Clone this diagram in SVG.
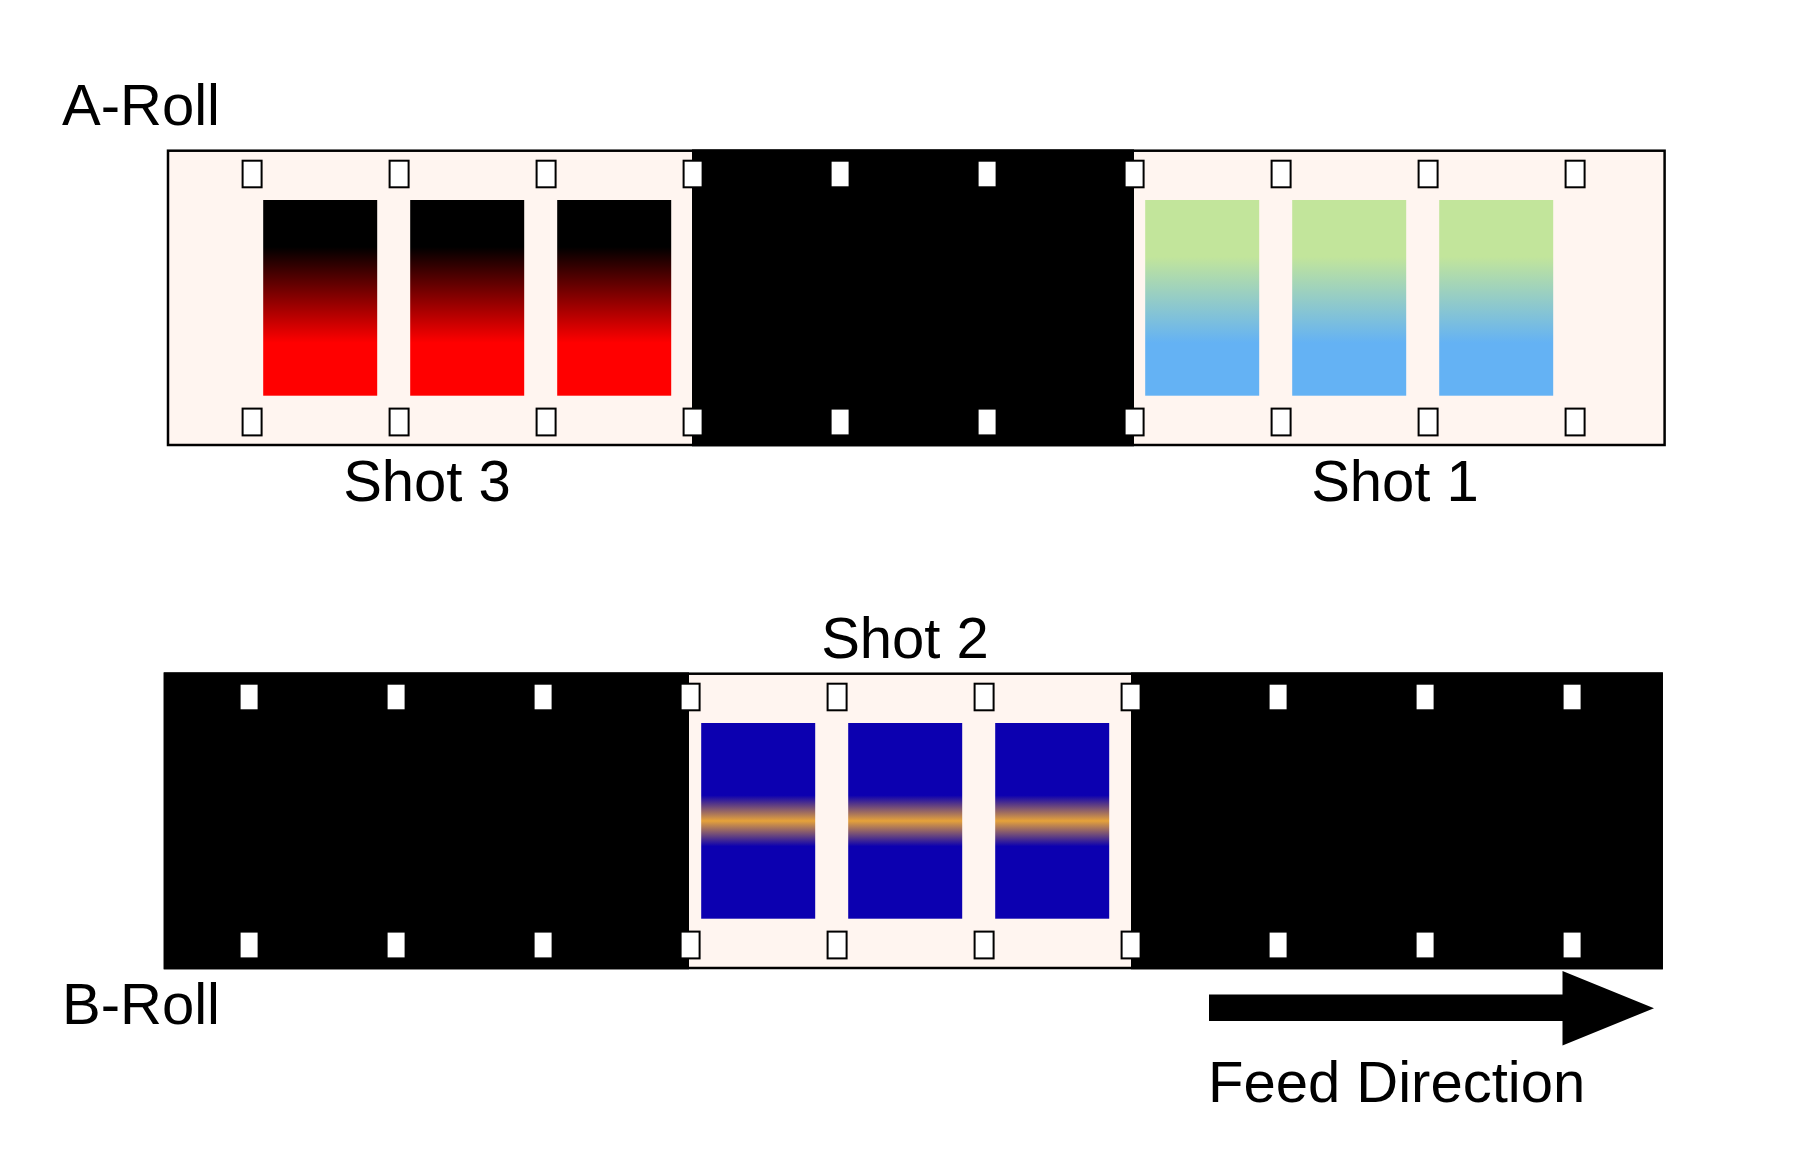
<svg xmlns="http://www.w3.org/2000/svg" xmlns:xlink="http://www.w3.org/1999/xlink" width="1800" height="1175" viewBox="0 0 1800 1175">
  <defs>
    <linearGradient id="gRed" x1="0" y1="0" x2="0" y2="1">
      <stop offset="0.24" stop-color="#000000"/>
      <stop offset="0.73" stop-color="#ff0000"/>
    </linearGradient>
    <linearGradient id="gGreen" x1="0" y1="0" x2="0" y2="1">
      <stop offset="0.29" stop-color="#c2e59b"/>
      <stop offset="0.73" stop-color="#64b2f4"/>
    </linearGradient>
    <linearGradient id="gBlue" x1="0" y1="0" x2="0" y2="1">
      <stop offset="0.37" stop-color="#0c00b0"/>
      <stop offset="0.5" stop-color="#e6a23a"/>
      <stop offset="0.63" stop-color="#0c00b0"/>
    </linearGradient>
    <g id="holes">
      <rect class="hole" x="242.6" y="160.7" width="19" height="26.6"/>
      <rect class="hole" x="389.6" y="160.7" width="19" height="26.6"/>
      <rect class="hole" x="536.6" y="160.7" width="19" height="26.6"/>
      <rect class="hole" x="683.6" y="160.7" width="19" height="26.6"/>
      <rect class="hole" x="830.6" y="160.7" width="19" height="26.6"/>
      <rect class="hole" x="977.6" y="160.7" width="19" height="26.6"/>
      <rect class="hole" x="1124.6" y="160.7" width="19" height="26.6"/>
      <rect class="hole" x="1271.6" y="160.7" width="19" height="26.6"/>
      <rect class="hole" x="1418.6" y="160.7" width="19" height="26.6"/>
      <rect class="hole" x="1565.6" y="160.7" width="19" height="26.6"/>
      <rect class="hole" x="242.6" y="408.6" width="19" height="26.8"/>
      <rect class="hole" x="389.6" y="408.6" width="19" height="26.8"/>
      <rect class="hole" x="536.6" y="408.6" width="19" height="26.8"/>
      <rect class="hole" x="683.6" y="408.6" width="19" height="26.8"/>
      <rect class="hole" x="830.6" y="408.6" width="19" height="26.8"/>
      <rect class="hole" x="977.6" y="408.6" width="19" height="26.8"/>
      <rect class="hole" x="1124.6" y="408.6" width="19" height="26.8"/>
      <rect class="hole" x="1271.6" y="408.6" width="19" height="26.8"/>
      <rect class="hole" x="1418.6" y="408.6" width="19" height="26.8"/>
      <rect class="hole" x="1565.6" y="408.6" width="19" height="26.8"/>
    </g>
  </defs>
  <style>
    .base { fill: #fff5f0; stroke: #000000; stroke-width: 2.5; }
    .blank { fill: #000000; }
    .hole { fill: #ffffff; stroke: #000000; stroke-width: 2; }
    .lbl { font-family: "Liberation Sans", Arial, sans-serif; font-size: 58px; fill: #000000; }
  </style>
  <rect width="1800" height="1175" fill="#ffffff"/>

  <g id="a-roll">
    <rect class="base" x="168" y="150.7" width="1496.6" height="294.3"/>
    <g id="shot3">
      <rect x="263.2" y="200" width="114" height="195.7" fill="url(#gRed)"/>
      <rect x="410.2" y="200" width="114" height="195.7" fill="url(#gRed)"/>
      <rect x="557.2" y="200" width="114" height="195.7" fill="url(#gRed)"/>
    </g>
    <rect class="blank" x="692" y="149.4" width="442" height="296.9"/>
    <g id="shot1">
      <rect x="1145.2" y="200" width="114" height="195.7" fill="url(#gGreen)"/>
      <rect x="1292.2" y="200" width="114" height="195.7" fill="url(#gGreen)"/>
      <rect x="1439.2" y="200" width="114" height="195.7" fill="url(#gGreen)"/>
    </g>
    <use xlink:href="#holes"/>
  </g>

  <g id="b-roll" transform="translate(-3,523)">
    <rect class="base" x="168" y="150.7" width="1496.6" height="294.3"/>
    <rect class="blank" x="166.7" y="149.4" width="525.3" height="296.9"/>
    <rect class="blank" x="1134" y="149.4" width="531.9" height="296.9"/>
    <g id="shot2">
      <rect x="704.2" y="200" width="114" height="195.7" fill="url(#gBlue)"/>
      <rect x="851.2" y="200" width="114" height="195.7" fill="url(#gBlue)"/>
      <rect x="998.2" y="200" width="114" height="195.7" fill="url(#gBlue)"/>
    </g>
    <use xlink:href="#holes"/>
  </g>

  <g id="connectors">
    <path id="feed-arrow" d="M1209,994.5 H1562.5 V971 L1654,1008.2 L1562.5,1045.5 V1021 H1209 Z" fill="#000000"/>
  </g>

  <g id="labels">
    <text class="lbl" x="62" y="125">A-Roll</text>
    <text class="lbl" x="62" y="1024">B-Roll</text>
    <text class="lbl" x="427" y="501" text-anchor="middle">Shot 3</text>
    <text class="lbl" x="1395" y="501" text-anchor="middle">Shot 1</text>
    <text class="lbl" x="905" y="658" text-anchor="middle">Shot 2</text>
    <text class="lbl" x="1208" y="1102">Feed Direction</text>
  </g>
</svg>
